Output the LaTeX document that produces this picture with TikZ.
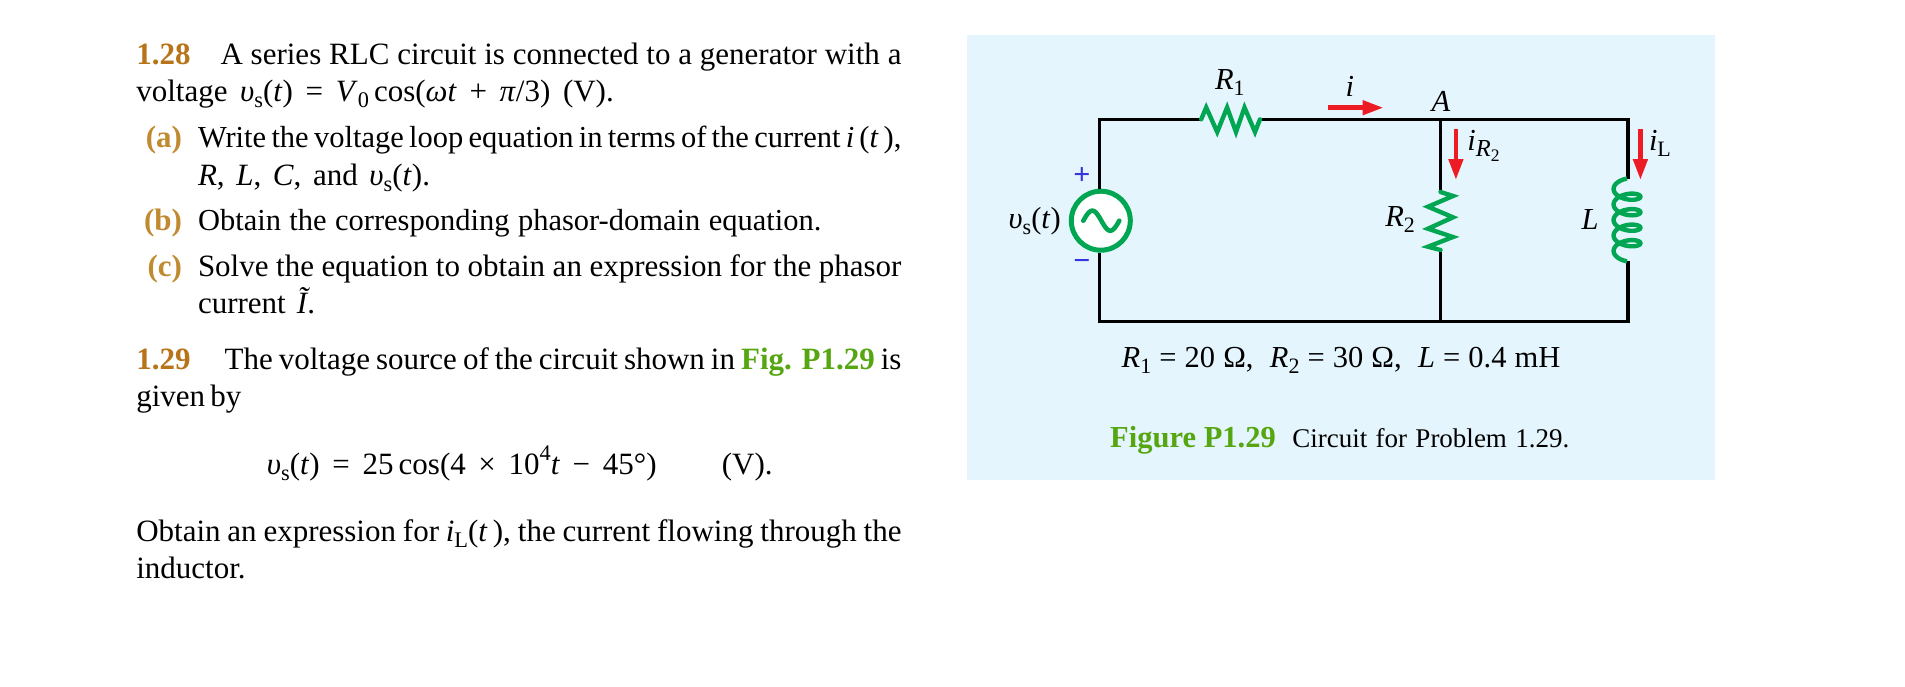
\documentclass[tikz,border=0pt]{standalone}
\usepackage{fontspec}
\setmainfont{Liberation Serif}
\usetikzlibrary{arrows.meta}
\definecolor{panelblue}{HTML}{E5F5FD}
\definecolor{probnum}{HTML}{B8741A}
\definecolor{figgreen}{HTML}{55A610}
\definecolor{partgold}{HTML}{C08A30}
\definecolor{compgreen}{HTML}{00A651}
\definecolor{curred}{HTML}{ED1C24}
\definecolor{signblue}{HTML}{3535E0}
\newcommand\sbs[1]{\raisebox{-0.2em}{\scalebox{0.72}{#1}}}
\newcommand\spr[1]{\raisebox{0.42em}{\scalebox{0.72}{#1}}}
\newcommand\itt[1]{\textit{#1}}
\newcommand\vsrc{\itt{υ}\sbs{s}}
\newcommand\jl[2]{\hbox to #1pt{#2}}
\newcommand\tightsp{\spaceskip=0.15em plus 1em\relax}
\tikzset{
 txt/.style={anchor=base west,inner sep=0pt,outer sep=0pt,font=\fontsize{31}{36}\selectfont},
 tight/.style={txt,font=\fontsize{30.5}{36}\selectfont},
 lbl/.style={txt,font=\fontsize{30.5}{36}\selectfont},
 part/.style={anchor=base east,inner sep=0pt,font=\fontsize{31}{36}\selectfont\bfseries,text=partgold},
 wire/.style={draw=black,line width=3.3pt,line join=miter},
 thinwire/.style={draw=black,line width=3pt},
 comp/.style={draw=compgreen,line width=4.4pt,line join=miter,line cap=round},
 curarrow/.style={draw=curred,line width=4.6pt,-{Triangle[length=21pt,width=14pt,fill=curred]}},
 sign/.style={inner sep=0pt,text=signblue,font=\fontsize{30}{36}\selectfont\bfseries},
}
\begin{document}
\begin{tikzpicture}[x=1pt,y=-1pt]
\useasboundingbox (0,0) rectangle (1905,686);
\fill[panelblue] (967,34.5) rectangle (1715,480);

% Left column
\node[txt,text=probnum] (n28) at (136.3,64.3) {\textbf{1.28}};
\node[txt] (l1) at (220.5,64.3) {\jl{681}{A series RLC circuit is connected to a generator with a}};
\node[txt] (l2) at (136.3,101.7) {\jl{477.5}{voltage \vsrc(\itt{t}) = \itt{V}\sbs{0}\,cos(\itt{ωt} + \itt{π}/3) (V).}};
\node[part] (pa) at (182.2,147.3) {(a)};
\node[tight] (a1) at (198,147.3) {\tightsp\jl{703.5}{Write the voltage loop equation in terms of the current \itt{i}\,(\itt{t}\,),}};
\node[txt] (a2) at (198,185) {\jl{232}{\itt{R}, \itt{L}, \itt{C}, and \vsrc(\itt{t}).}};
\node[part] (pb) at (182.2,230) {(b)};
\node[tight] (b1) at (198,230) {\tightsp\jl{623.4}{Obtain the corresponding phasor-domain equation.}};
\node[part] (pc) at (182.2,276.7) {(c)};
\node[txt] (c1) at (198,276.7) {\jl{703.5}{Solve the equation to obtain an expression for the phasor}};
\node[txt] (c2) at (198,313.3) {\jl{117}{current \itt{\~I}.}};
\node[txt,text=probnum] (n29) at (136.3,369.3) {\textbf{1.29}};
\node[txt] (m1) at (224.6,369.3) {\jl{676.9}{The voltage source of the circuit shown in \textcolor{figgreen}{\textbf{Fig. P1.29}} is}};
\node[txt] (m2) at (136.3,406.7) {\jl{103.6}{given by}};
\node[txt] (eq) at (266.9,474) {\jl{389.7}{\vsrc(\itt{t}) = 25\,cos(4 × 10\spr{4}\itt{t} − 45°)}};
\node[txt] (eqv) at (721.9,474) {\jl{48.5}{(V).}};
\node[txt] (o1) at (136.3,541.7) {\jl{765.2}{Obtain an expression for \itt{i}\sbs{L}(\itt{t}\,), the current flowing through the}};
\node[txt] (o2) at (136.3,578.3) {\jl{107.7}{inductor.}};

% Circuit anchors
\coordinate (tl) at (1099.8,119.3);
\coordinate (tr) at (1628,119.3);
\coordinate (br) at (1628,321.7);
\coordinate (bl) at (1099.8,321.7);
\coordinate (A) at (1440.5,119.3);
\coordinate (bm) at (1440.5,321.7);
\coordinate (r1a) at (1201.2,119.3);
\coordinate (r1b) at (1260,119.3);
\coordinate (r2a) at (1440.5,192);
\coordinate (r2b) at (1440.5,250);
\coordinate (la) at (1628,178.6);
\coordinate (lb) at (1628,261.3);

% Source
\node[circle,draw=compgreen,line width=5pt,fill=white,minimum size=59pt,inner sep=0pt] (src) at (1100.8,220.7) {};

% Wires
\draw[wire] (src.north -| tl) -- (tl) -- (r1a);
\draw[wire] (r1b) -- (tr) -- (la);
\draw[wire] (lb) -- (br) -- (bl) -- (src.south -| bl);
\draw[thinwire] (A) -- (r2a);
\draw[thinwire] (r2b) -- (bm);

% Sine in source
\draw[comp,line width=4.6pt] plot[domain=0:360,samples=40,smooth] ({1101.3+(\x-180)/180*18},{220.7-10*sin(\x)});

% R1
\draw[comp] (r1a) -- (1206.2,107.5) -- (1217.2,132) -- (1227.1,107.5) -- (1236,132) -- (1244.5,107.5) -- (1255,132) -- (r1b);
% R2
\draw[comp] (r2a) -- (1453,196) -- (1428,206.7) -- (1453,217.3) -- (1428,228.7) -- (1453,237) -- (1428,246.7) -- (r2b);
% L
\draw[comp,line cap=butt] plot[domain=90:1710,samples=220,smooth] ({1627+13.4*cos(\x)},{181.2+\x/360*15.5-6.5*sin(\x)});

% Current arrows
\coordinate (ia) at (1328,107.7);
\coordinate (ib) at (1383.5,107.7);
\coordinate (r2ia) at (1455.9,129.3);
\coordinate (r2ib) at (1455.9,180);
\coordinate (lia) at (1640.4,129.3);
\coordinate (lib) at (1640.4,180);
\draw[curarrow] (ia) -- (ib);
\draw[curarrow] (r2ia) -- (r2ib);
\draw[curarrow] (lia) -- (lib);

% Labels
\node[lbl] (lR1) at (1215,89.3) {\itt{R}\sbs{1}};
\node[lbl] (li) at (1345.5,96) {\itt{i}};
\node[lbl] (lA) at (1431.5,111) {\itt{A}};
\node[lbl] (liR) at (1467.4,150.7) {\itt{i}\raisebox{-0.2em}{\scalebox{0.8}{\itt{R}\sbs{2}}}};
\node[lbl] (liL) at (1649,150.7) {\itt{i}\sbs{L}};
\node[lbl] (lR2) at (1385.3,226.7) {\itt{R}\sbs{2}};
\node[lbl] (lL) at (1581.7,229.3) {\itt{L}};
\node[lbl] (lvs) at (1008.7,228.3) {\jl{52.3}{\vsrc(\itt{t})}};
\node[sign] (plus) at (1081.9,176) {+};
\node[sign] (minus) at (1081.9,264.5) {−};

% Values and caption
\node[lbl] (vals) at (1121.7,367.3) {\jl{438.7}{\itt{R}\sbs{1} = 20 Ω,\ \ \itt{R}\sbs{2} = 30 Ω,\ \ \itt{L} = 0.4 mH}};
\node[lbl,text=figgreen] (capa) at (1110.2,447.3) {\jl{165.6}{\textbf{Figure P1.29}}};
\node[txt,font=\fontsize{27}{32}\selectfont] (capb) at (1292.3,447.3) {\jl{277}{Circuit for Problem 1.29.}};
\end{tikzpicture}
\end{document}
